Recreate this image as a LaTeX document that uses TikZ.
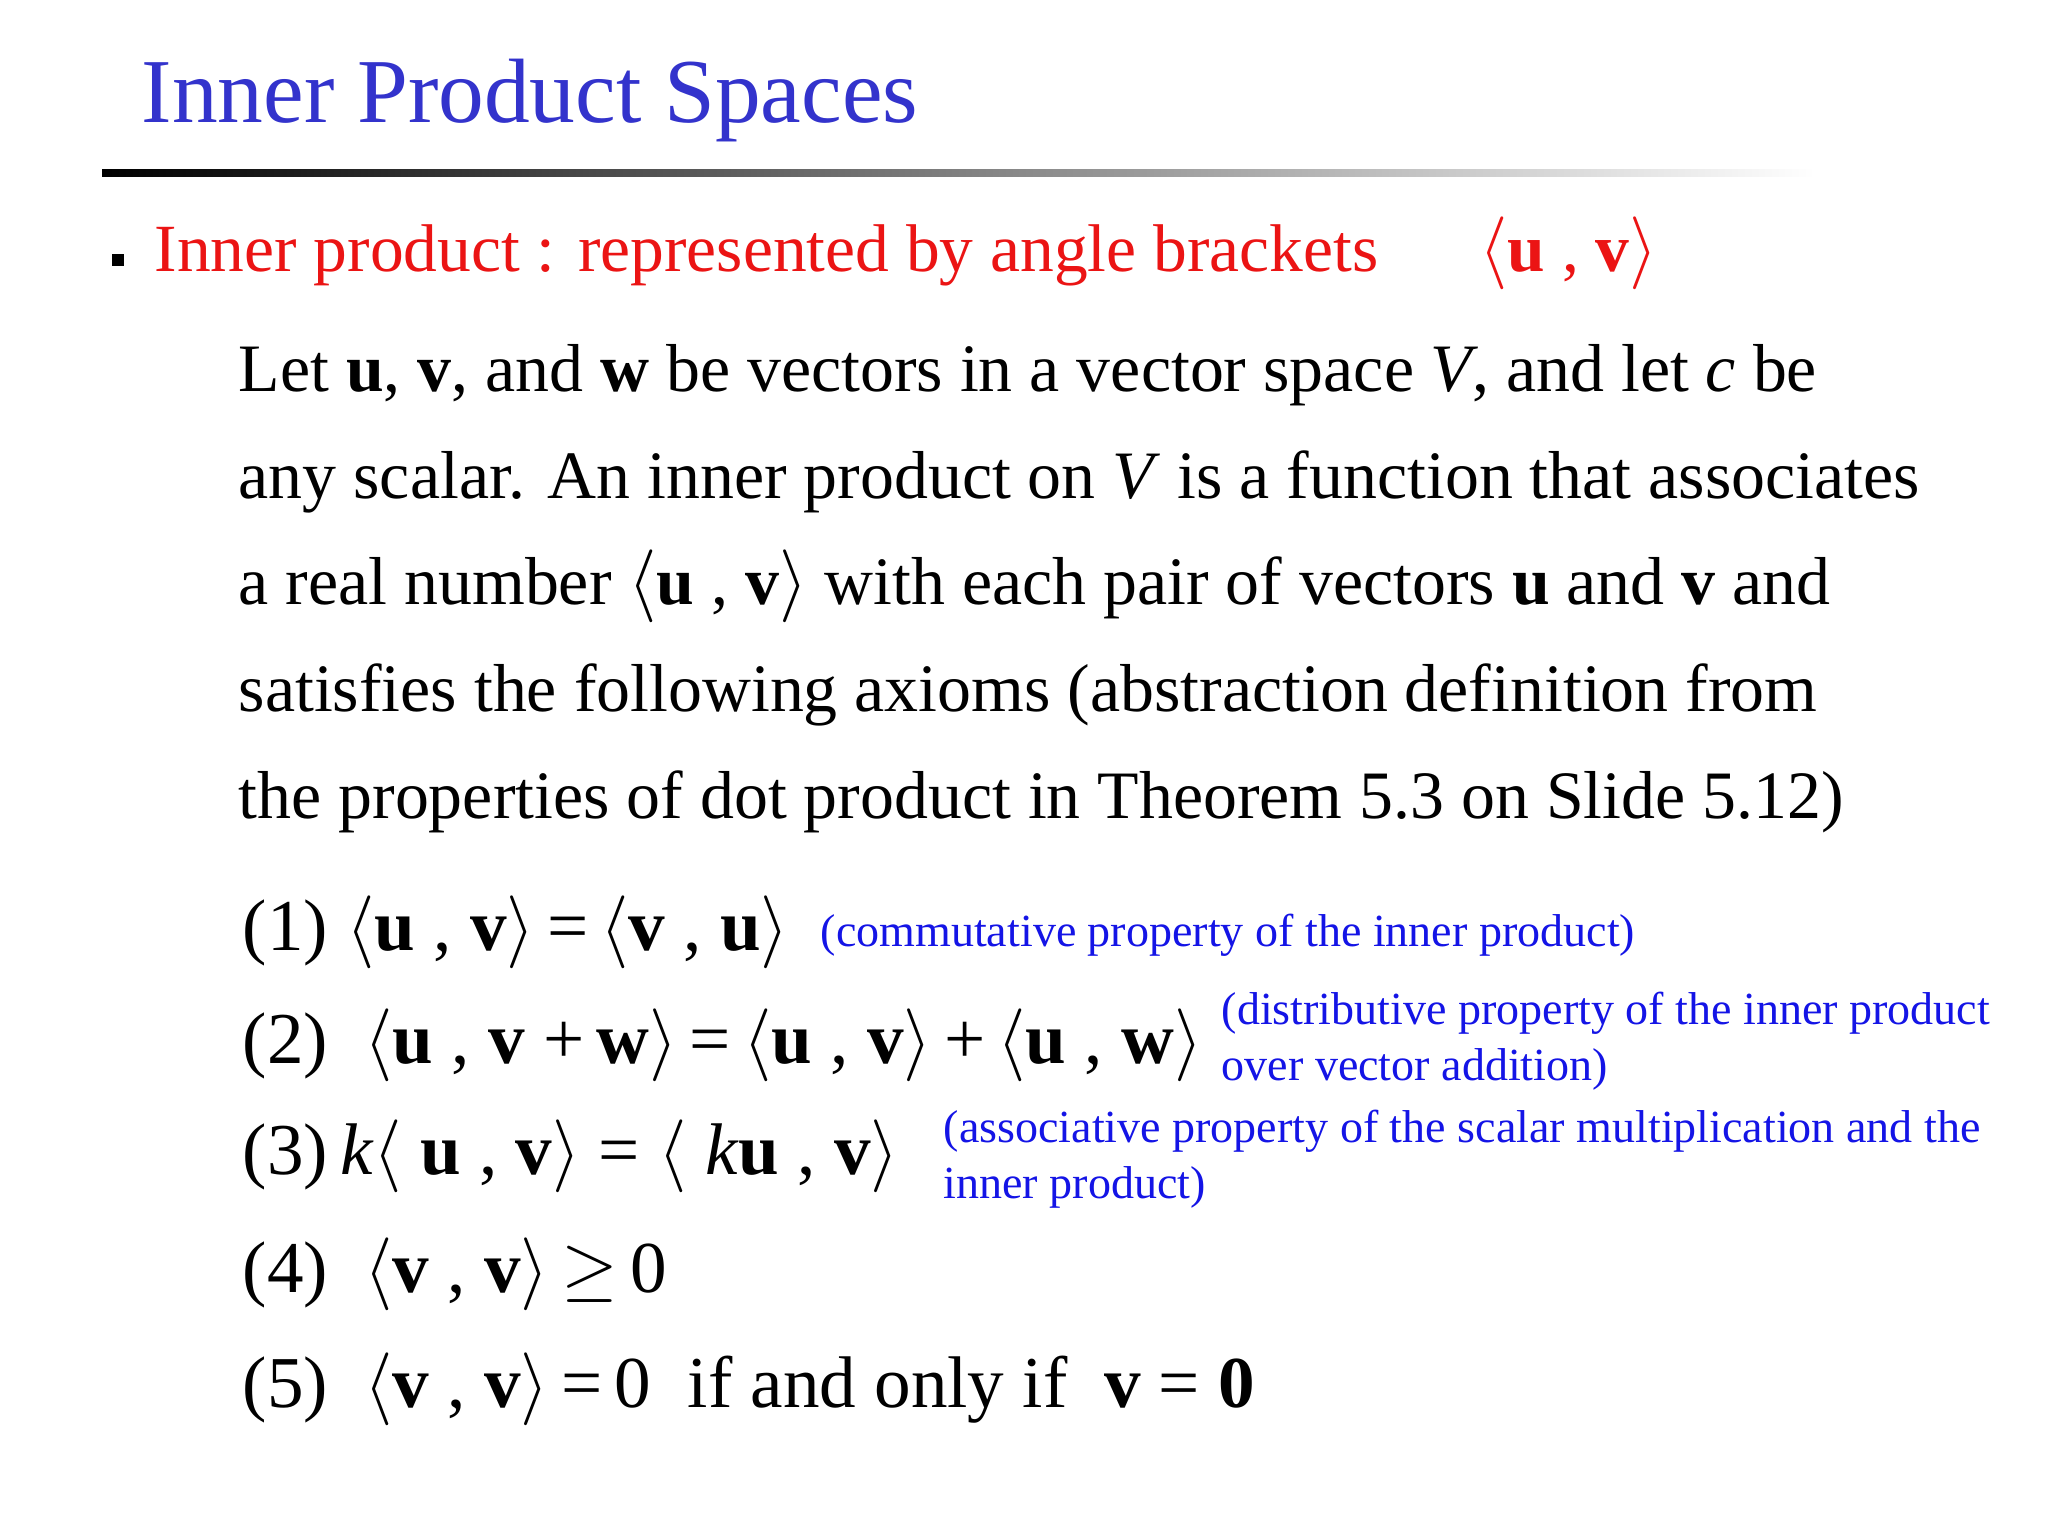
\documentclass[tikz,border=0pt]{standalone}
\usepackage{fontspec}
\setmainfont{Liberation Serif}
\usetikzlibrary{shadings}
\definecolor{titleblue}{RGB}{51,51,204}
\definecolor{annblue}{RGB}{20,20,230}
\definecolor{red1}{RGB}{235,20,20}
\newcommand{\la}{$\langle$}
\newcommand{\ra}{$\rangle$}
\newcommand{\bu}{\textbf{u}}
\newcommand{\bv}{\textbf{v}}
\newcommand{\bw}{\textbf{w}}
\begin{document}
\begin{tikzpicture}[x=1cm,y=1cm,
  txt/.style={anchor=base west,inner sep=0pt,font=\fontsize{19.3}{22}\selectfont},
  eq/.style={anchor=base west,inner sep=0pt,font=\fontsize{20.8}{24}\selectfont},
  ann/.style={anchor=base west,inner sep=0pt,text=annblue,font=\fontsize{13.1}{15.8}\selectfont}]
\useasboundingbox (0,0) rectangle (20.48,15.36);
\fill[white] (0,0) rectangle (20.48,15.36);
\node[anchor=base west,inner sep=0pt,text=titleblue,font=\fontsize{26}{30}\selectfont] (title) at (1.41,14.13) {Inner Product Spaces};
\shade[left color=black,right color=white] (1.02,13.59) rectangle (18.15,13.66);
\fill (1.12,12.70) rectangle (1.24,12.82);
\node[anchor=base west,inner sep=0pt,text=red1,font=\fontsize{19.2}{22}\selectfont] (bul) at (1.54,12.64) {Inner product : represented by angle brackets \quad\ \la\bu\ , \bv\ra};
\node[txt] (l1) at (2.38,11.44) {Let \bu, \bv, and \bw\ be vectors in a vector space \textit{V}, and let \textit{c} be};
\node[txt] (l2) at (2.38,10.37) {any scalar. An inner product on \textit{V} is a function that associates};
\node[txt] (l3) at (2.38,9.31) {a real number \la\bu\ , \bv\ra\ with each pair of vectors \bu\ and \bv\ and};
\node[txt] (l4) at (2.38,8.24) {satisfies the following axioms (abstraction definition from};
\node[txt] (l5) at (2.38,7.17) {the properties of dot product in Theorem 5.3 on Slide 5.12)};
\node[eq] (e1) at (2.42,5.85) {(1) \la\bu\ , \bv\ra\,=\,\la\bv\ , \bu\ra};
\node[ann] (a1) at (8.20,5.89) {(commutative property of the inner product)};
\node[eq] (e2) at (2.42,4.72) {(2) \ \la\bu\ , \bv\ +\,\bw\ra\,=\,\la\bu\ , \bv\ra\,+\,\la\bu\ , \bw\ra};
\node[ann] (a2) at (12.21,5.11) {(distributive property of the inner product};
\node[ann] (a2b) at (12.21,4.55) {over vector addition)};
\node[eq] (e3) at (2.42,3.61) {(3)\,\textit{k}\la\ \bu\ , \bv\ra\ =\ \la\ \textit{k}\bu\ , \bv\ra};
\node[ann] (a3) at (9.43,3.93) {(associative property of the scalar multiplication and the};
\node[ann] (a3b) at (9.43,3.37) {inner product)};
\node[eq] (e4) at (2.42,2.43) {(4) \ \la\bv\ , \bv\ra\,$\geq$\,0};
\node[eq] (e5) at (2.42,1.28) {(5) \ \la\bv\ , \bv\ra\,=\,0 \ if and only if \ \bv\ = \textbf{0}};
\end{tikzpicture}
\end{document}
